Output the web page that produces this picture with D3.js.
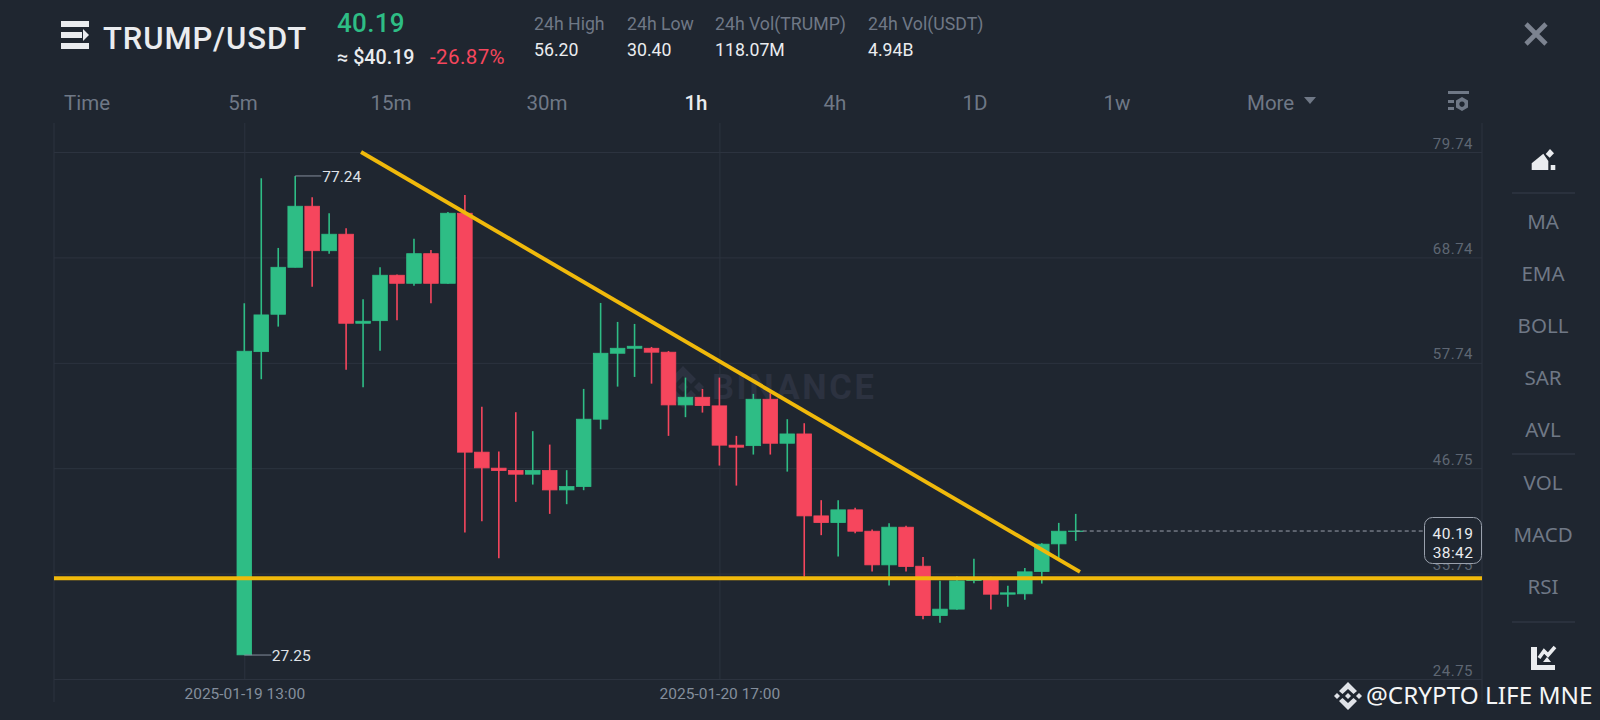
<!DOCTYPE html>
<html>
<head>
<meta charset="utf-8">
<script src="https://cdn.jsdelivr.net/npm/d3@7/dist/d3.min.js"></script>
<style>
  html, body { margin: 0; padding: 0; background: #1f2630; }
  svg { display: block; font-family: Roboto, sans-serif; }
</style>
</head>
<body>
<svg id="canvas" width="1600" height="720"></svg>
<script>
// hourly candles, index 0 = 2025-01-19 13:00
var opens = [27.27,58.91,62.81,67.71,74.08,69.44,71.16,61.87,62.14,66.88,66.04,69.13,66.04,73.35,48.42,46.75,46.50,46.12,46.50,44.48,44.83,51.86,58.74,59.26,59.26,58.85,53.35,54.15,53.25,49.15,49.10,53.94,49.35,50.32,41.77,41.07,42.40,40.17,36.66,40.59,36.52,31.37,32.04,35.02,35.17,33.60,33.64,35.96,38.85,40.14];
var highs = [63.96,77.00,69.73,77.24,75.01,73.35,71.78,64.38,67.71,66.95,70.70,69.52,73.48,75.25,53.17,48.48,52.59,50.61,49.21,46.54,55.02,63.99,62.01,61.80,59.40,58.98,56.20,55.02,56.20,50.12,54.50,54.57,51.86,51.44,43.41,43.41,42.61,40.34,41.01,40.73,37.49,34.99,35.48,37.29,35.41,34.47,36.32,38.92,41.04,41.98];
var lows = [27.25,56.03,61.52,67.70,65.69,69.13,57.03,55.20,59.01,62.18,65.79,63.96,65.98,40.03,41.22,37.36,43.23,45.04,41.98,42.99,44.45,50.81,55.26,56.27,55.57,50.12,52.07,52.55,47.02,44.93,48.17,48.17,46.39,35.44,39.76,37.53,39.97,35.96,34.50,35.96,30.99,30.61,31.98,34.75,32.00,32.28,33.01,34.71,37.39,39.16];
var closes = [58.95,62.74,67.71,74.08,69.44,71.16,61.87,62.08,66.88,66.04,69.13,66.04,73.35,48.42,46.78,46.50,46.12,46.50,44.48,44.83,51.86,58.74,59.26,59.47,58.85,53.35,54.15,53.28,49.15,48.94,53.94,49.35,50.32,41.77,41.07,42.40,40.17,36.66,40.59,36.48,31.37,32.04,34.99,35.17,33.60,33.74,35.93,38.82,40.17,40.19];

var priceTicks = [79.74, 68.74, 57.74, 46.75, 35.75, 24.75];
var timeTicks = [0, 28];
var timeLabels = ["2025-01-19 13:00", "2025-01-20 17:00"];
var tabs = ["Time", "5m", "15m", "30m", "1h", "4h", "1D", "1w", "More"];
var tools = ["MA", "EMA", "BOLL", "SAR", "AVL", "VOL", "MACD", "RSI"];
var stats = ["24h High", "24h Low", "24h Vol(TRUMP)", "24h Vol(USDT)"];
var statValues = ["56.20", "30.40", "118.07M", "4.94B"];
var lastPrice = 40.19;
var supportPrice = 35.27;
var trendIndex = [6.88, 49.25];
var trendPrice = [79.74, 35.93];

var green = "#2ebd85", red = "#f6465d", amber = "#f0b90b", bg = "#1f2630";
var grey = "#6f7886", gridColor = "#2c333f";

var canvas = d3.select("#canvas");
canvas.append("rect").attr("width", 1600).attr("height", 720).attr("fill", bg);

var x = d3.scaleLinear().domain([0, 28]).range([244.3, 719.4]);
var y = d3.scaleLinear().domain([79.74, 24.75]).range([152, 679]);

function label(parent, txt, px, py, size, color, anchor, weight) {
  return parent.append("text").text(txt)
    .attr("x", px).attr("y", py)
    .attr("font-size", size)
    .attr("fill", color)
    .attr("text-anchor", anchor || "start")
    .attr("font-weight", weight || 400);
}

// y axis + horizontal grid
var yAxis = canvas.append("g")
  .attr("transform", "translate(1482,0)")
  .call(d3.axisLeft(y).tickValues(priceTicks).tickSize(1428).tickFormat(d3.format(".2f")));
yAxis.select(".domain").remove();
yAxis.selectAll("line").attr("stroke", gridColor);
yAxis.selectAll("text")
  .attr("x", -9).attr("dy", -4)
  .attr("text-anchor", "end")
  .attr("font-size", 15).attr("font-family", "Roboto").attr("letter-spacing", 0.5)
  .attr("fill", "#5e6673");

// x axis + vertical grid
var xAxis = canvas.append("g")
  .attr("transform", "translate(0,679)")
  .call(d3.axisTop(x).tickValues(timeTicks).tickSize(556).tickFormat(function(d, i) { return timeLabels[i]; }));
xAxis.select(".domain").remove();
xAxis.selectAll("line").attr("stroke", gridColor);
xAxis.selectAll("text")
  .attr("y", 19.5).attr("dy", 0)
  .attr("text-anchor", "middle")
  .attr("font-size", 15.5).attr("font-family", "Roboto")
  .attr("fill", "#848e9c");

// frame
canvas.append("line").attr("x1", 54).attr("x2", 54).attr("y1", 123).attr("y2", 702).attr("stroke", gridColor);
canvas.append("line").attr("x1", 1482).attr("x2", 1482).attr("y1", 123).attr("y2", 702).attr("stroke", gridColor);

// center watermark
label(canvas, "BINANCE", 712, 398.5, 34.5, "#2c3240", "start", 700).attr("letter-spacing", 2.6);
canvas.append("g").attr("transform", "translate(683,387)").attr("fill", "#2c3240")
  .selectAll("path")
  .data(["M0,-21 L13,-8 L8,-3 L0,-11 L-8,-3 L-13,-8 Z", "M0,21 L13,8 L8,3 L0,11 L-8,3 L-13,8 Z", "M-21,0 L-16,-5 L-11,0 L-16,5 Z", "M21,0 L16,-5 L11,0 L16,5 Z", "M0,-5 L5,0 L0,5 L-5,0 Z"])
  .enter().append("path").attr("d", function(d) { return d; });

// candles
var candles = canvas.append("g").selectAll("g")
  .data(opens)
  .enter().append("g")
  .attr("fill", function(d, i) { return closes[i] >= opens[i] ? green : red; })
  .attr("stroke", function(d, i) { return closes[i] >= opens[i] ? green : red; });

candles.append("line")
  .attr("x1", function(d, i) { return x(i); })
  .attr("x2", function(d, i) { return x(i); })
  .attr("y1", function(d, i) { return y(highs[i]); })
  .attr("y2", function(d, i) { return y(lows[i]); })
  .attr("stroke-width", 1.6);

candles.append("rect")
  .attr("x", function(d, i) { return x(i) - 7.3; })
  .attr("width", 14.6)
  .attr("y", function(d, i) { return y(Math.max(opens[i], closes[i])); })
  .attr("height", function(d, i) { return Math.abs(y(opens[i]) - y(closes[i])); })
  .attr("stroke-width", 0.8);

// high / low markers
var hiIdx = highs.indexOf(d3.max(highs)), loIdx = lows.indexOf(d3.min(lows));
canvas.append("path").attr("fill", "none").attr("stroke", "#848e9c")
  .attr("d", "M" + x(hiIdx) + "," + y(highs[hiIdx]) + " h26");
label(canvas, highs[hiIdx].toFixed(2), x(hiIdx) + 27, y(highs[hiIdx]) + 6, 15.5, "#dfe2e7");
canvas.append("path").attr("fill", "none").attr("stroke", "#848e9c")
  .attr("d", "M" + x(loIdx) + "," + y(lows[loIdx]) + " h27");
label(canvas, lows[loIdx].toFixed(2), x(loIdx) + 27.5, y(lows[loIdx]) + 6, 15.5, "#dfe2e7");

// drawn lines
canvas.append("line")
  .attr("x1", 54).attr("x2", 1482)
  .attr("y1", y(supportPrice)).attr("y2", y(supportPrice))
  .attr("stroke", amber).attr("stroke-width", 3.9);
canvas.append("line")
  .attr("x1", x(trendIndex[0])).attr("y1", y(trendPrice[0]))
  .attr("x2", x(trendIndex[1])).attr("y2", y(trendPrice[1]))
  .attr("stroke", amber).attr("stroke-width", 3.9);

// last price line and tag
canvas.append("line")
  .attr("x1", x(opens.length - 1)).attr("x2", 1424)
  .attr("y1", y(lastPrice)).attr("y2", y(lastPrice))
  .attr("stroke", "#9aa1ad").attr("stroke-dasharray", "4,3");
canvas.append("rect")
  .attr("x", 1424.5).attr("y", 517.5).attr("width", 57).attr("height", 46).attr("rx", 8)
  .attr("fill", bg).attr("stroke", "#9aa1ad");
label(canvas, lastPrice.toFixed(2), 1453, 539, 15.5, "#eaecef", "middle").attr("letter-spacing", 0.4);
label(canvas, "38:42", 1453, 558, 15.5, "#eaecef", "middle").attr("letter-spacing", 0.4);

// header
var ink = "#eaecef";
canvas.append("g").attr("fill", ink).selectAll("path")
  .data(["M61,21h28v6h-28z", "M61,32h21v6h-21z", "M61,43h28v6h-28z", "M83,29l6,6l-6,6z"])
  .enter().append("path").attr("d", function(d) { return d; });
label(canvas, "TRUMP/USDT", 103, 49, 31, ink, "start", 500).attr("letter-spacing", 0.9);
label(canvas, "40.19", 337, 32, 26, green, "start", 500).attr("letter-spacing", 0.3);
label(canvas, "≈ $40.19", 337, 64, 19.7, ink, "start", 500);
label(canvas, "-26.87%", 430, 64, 20.5, red, "start", 400).attr("letter-spacing", 0.4);

var statX = [534, 627, 715, 868];
stats.forEach(function(s, i) {
  label(canvas, s, statX[i], 30, 17.7, grey);
  label(canvas, statValues[i], statX[i], 56, 17.7, ink);
});

// interval tabs
var tabX = [64, 243, 391, 547, 696, 835, 975, 1117, 1247];
tabs.forEach(function(t, i) {
  label(canvas, t, tabX[i], 110, 20.5, t === "1h" ? ink : grey, i === 0 || i === 8 ? "start" : "middle", t === "1h" ? 500 : 400);
});
canvas.append("path").attr("fill", grey).attr("d", "M1304,97h12l-6,7z");

// settings icon
canvas.append("g").attr("fill", grey).selectAll("path")
  .data(["M1448,91h21v3h-21z", "M1448,100h6v3h-6z", "M1448,107h6v3h-6z", "M1462,97l6,3.5v7l-6,3.5l-6,-3.5v-7zM1462,101.5a2.7,2.7 0 1,0 0.01,0z"])
  .enter().append("path").attr("fill-rule", "evenodd").attr("d", function(d) { return d; });

// close icon
canvas.append("path").attr("fill", "none").attr("stroke", "#7c8390").attr("stroke-width", 4.6)
  .attr("d", "M1526,24l20,20M1546,24l-20,20");

// right tools
var toolY = [229, 281, 333, 385, 437, 490, 542, 594];
tools.forEach(function(t, i) {
  label(canvas, t, 1543, toolY[i], 20.5, grey, "middle").attr("font-family", "Noto Sans");
});
[193, 454, 622].forEach(function(py) {
  canvas.append("line").attr("x1", 1512).attr("x2", 1575).attr("y1", py).attr("y2", py).attr("stroke", "#363d4a");
});
// pencil
canvas.append("g").attr("fill", ink).selectAll("path")
  .data(["M1531.7,170v-6.7l11.6,-9.5l5,7.2v9z", "M1545.7,154l4.3,-5l4,4.3l-4.3,4.4z", "M1550.7,165h4.6v5h-4.6z"])
  .enter().append("path").attr("d", function(d) { return d; });
// indicator icon
canvas.append("path").attr("fill", ink).attr("d", "M1531,647h6v18h18v5h-24zM1543,662h8l-4,-5z");
canvas.append("path").attr("fill", "none").attr("stroke", ink).attr("stroke-width", 3.6)
  .attr("d", "M1539,658l5,-7l4,4l7,-8");

// corner credit
canvas.append("g").attr("transform", "translate(1348,696)").attr("fill", "#dfe2e7")
  .selectAll("path")
  .data(["M0,-14 L9,-5 L5.5,-2 L0,-7 L-5.5,-2 L-9,-5 Z", "M0,14 L9,5 L5.5,2 L0,7 L-5.5,2 L-9,5 Z", "M-14,0 L-11,-3 L-8,0 L-11,3 Z", "M14,0 L11,-3 L8,0 L11,3 Z", "M0,-3 L3,0 L0,3 L-3,0 Z"])
  .enter().append("path").attr("d", function(d) { return d; });
label(canvas, "@CRYPTO LIFE MNE", 1366, 704, 24.3, "#f5f6f7").attr("font-family", "Noto Sans");
</script>
</body>
</html>
